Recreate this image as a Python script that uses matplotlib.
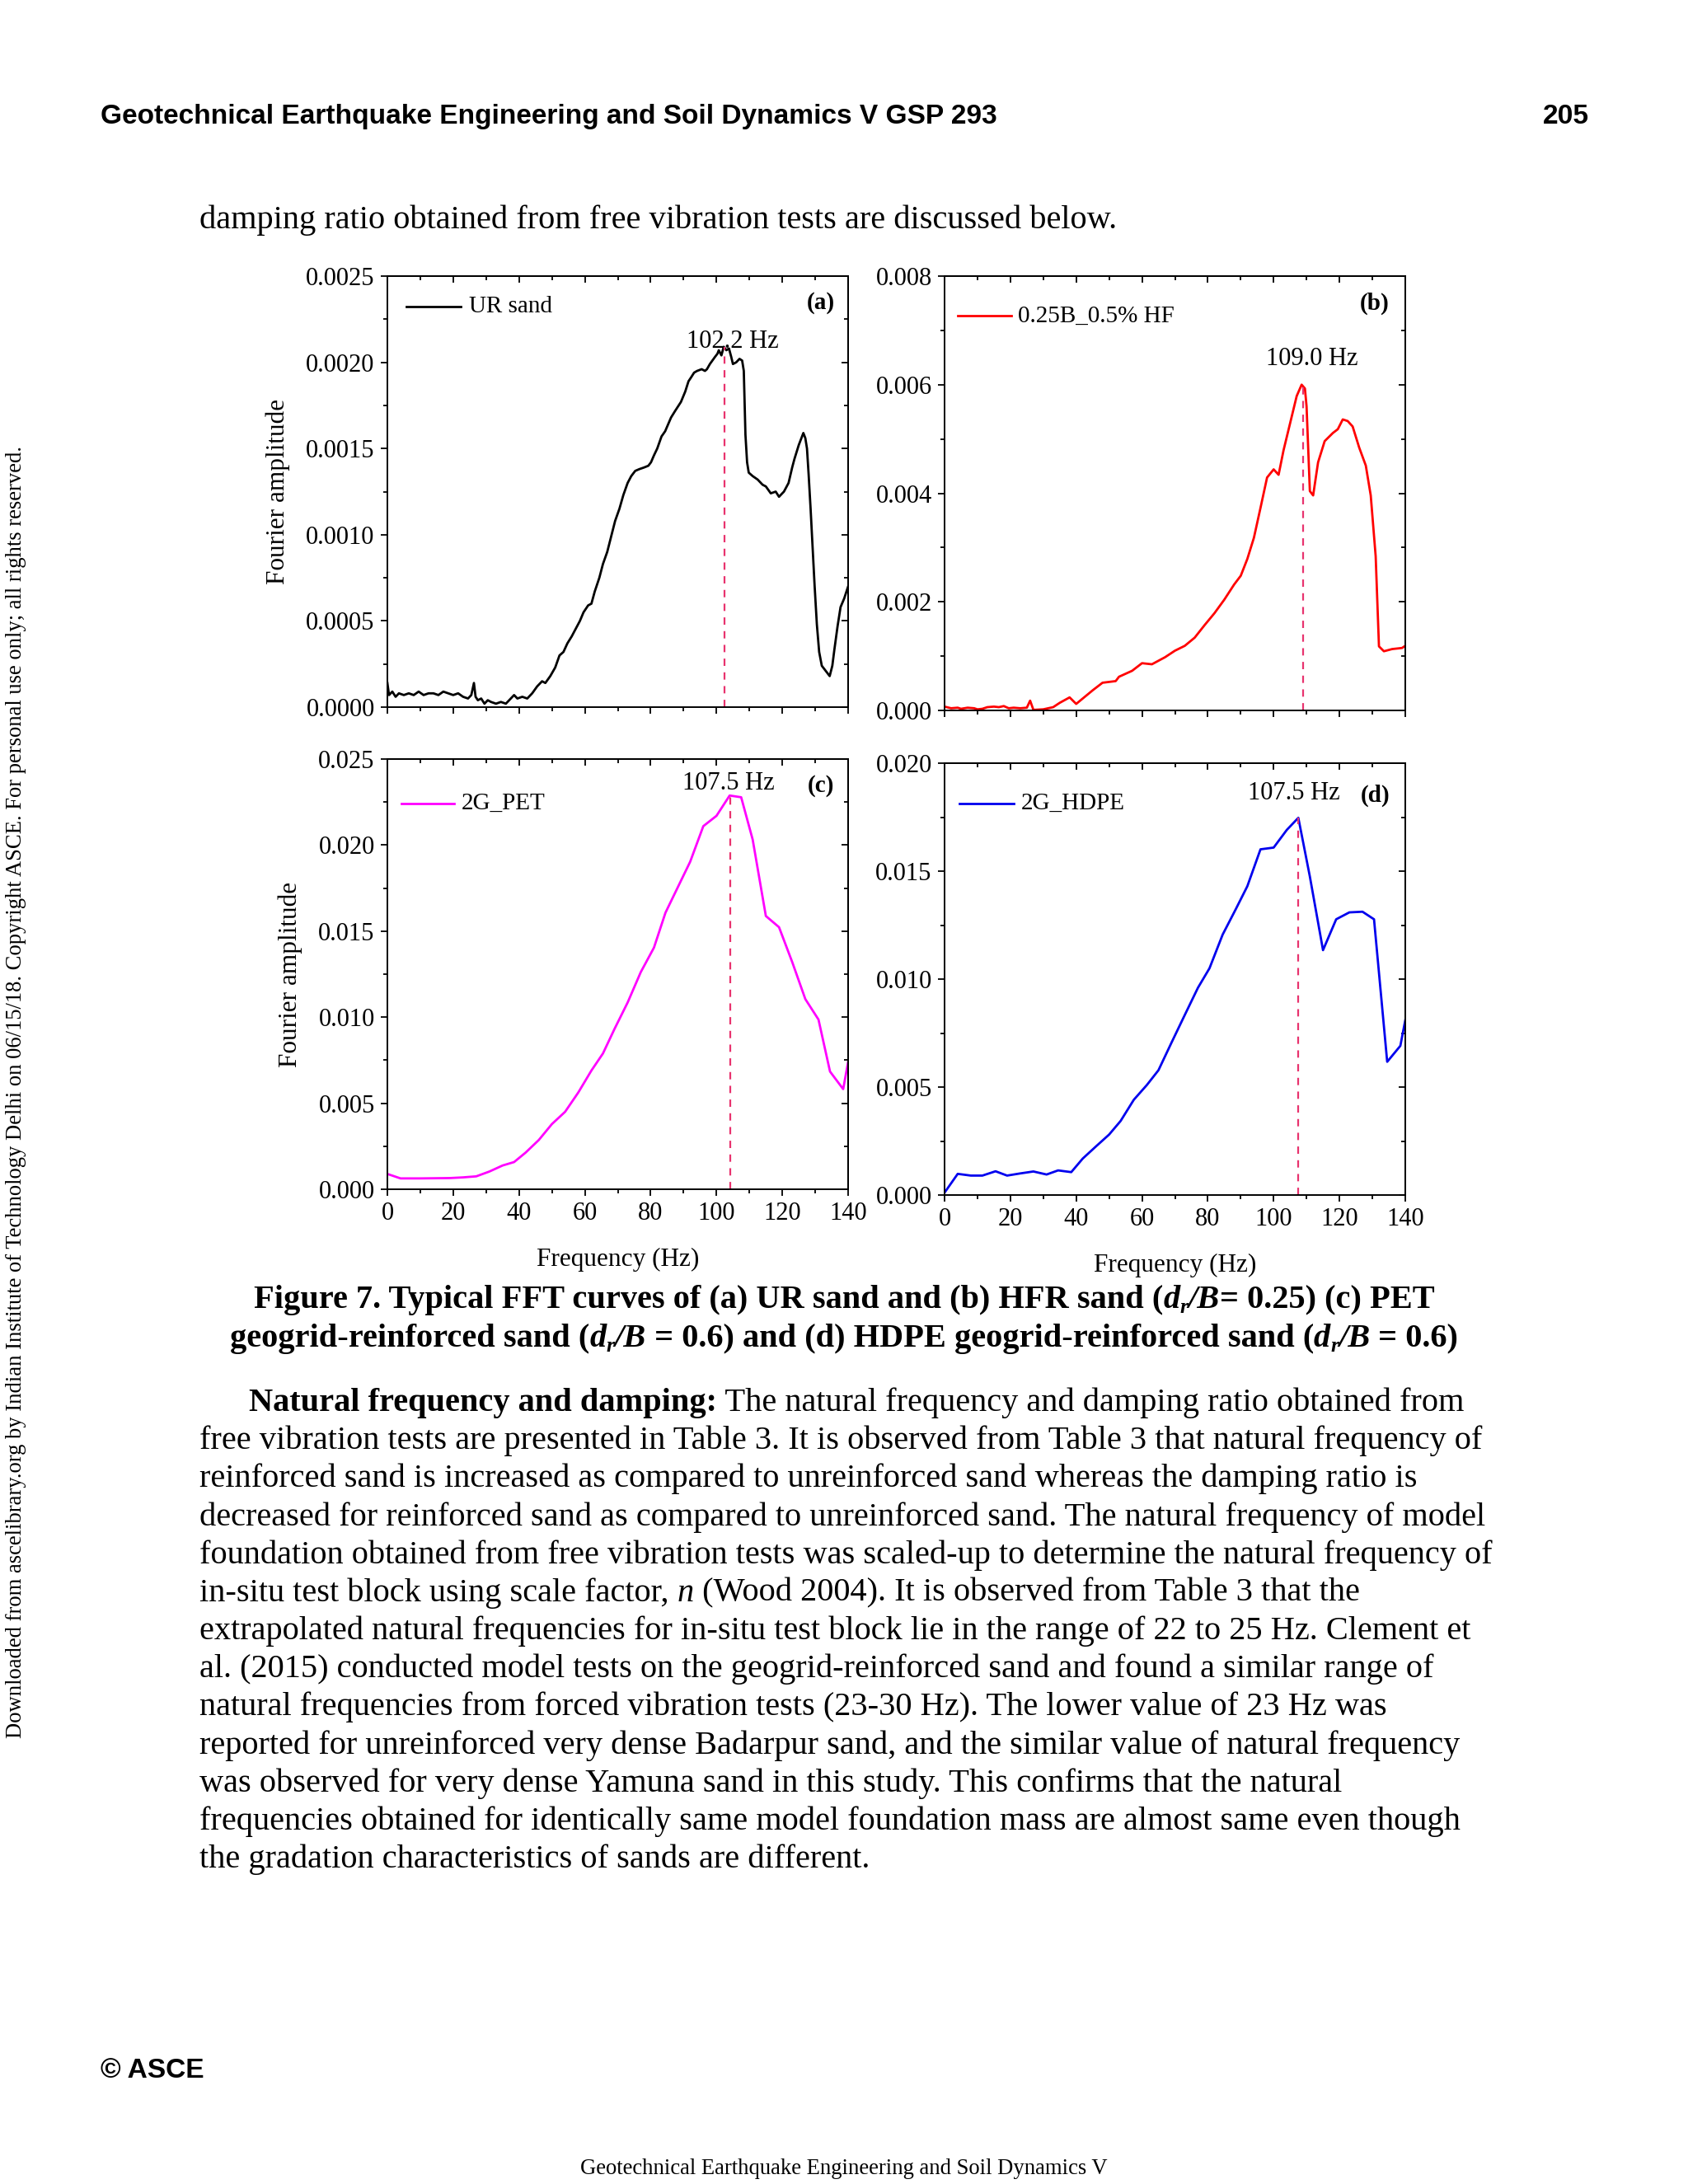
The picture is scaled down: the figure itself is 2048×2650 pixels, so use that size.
import matplotlib
matplotlib.use('Agg')
import matplotlib.pyplot as plt
from matplotlib.ticker import MultipleLocator, FormatStrFormatter

# ---------------- data ----------------
freq_a = [0, 0.5, 1.5, 2.5, 3.5, 5, 6.5, 8, 9.5, 11, 12.5, 14, 15.5, 17, 18.5, 20, 21.5, 23,
          24.5, 25.5, 26.3, 26.8, 27.5, 28.5, 29.5, 30.5, 31.5, 33, 34.5, 36, 37, 38.5, 39.5,
          41, 42.5, 44, 45.5, 47, 48, 49.5, 51, 52.3, 53.5, 54.7, 56, 57.1, 58.5, 59.6, 61, 62,
          63, 64.4, 65.5, 66.8, 68, 69.2, 70.5, 71.7, 73, 74.1, 75.3, 76.5, 78, 79.3, 80.1, 81,
          82, 83.3, 84.4, 85.3, 86.2, 87.5, 89.2, 90.5, 91.5, 92.2, 93.2, 94.1, 95.5, 96.5, 97.1,
          98, 99.5, 100.3, 100.7, 101.5, 102.2, 103, 103.8, 104.5, 105, 106, 107, 107.8, 108.3,
          108.8, 109.3, 109.8, 111, 112.5, 114, 115, 116.5, 118, 119, 119.5, 120.5, 121.9, 123,
          123.7, 125, 126.4, 127, 127.5, 128, 128.6, 129.2, 129.8, 130.5, 131.2, 132, 132.8,
          133.6, 134.4, 135.2, 135.8, 136.8, 137.7, 138.8, 140]
amp_a = [0.00014, 0.00007, 0.00009, 0.00006, 0.00008, 0.00007, 0.00008, 0.00007, 0.00009,
         0.00007, 0.00008, 0.00008, 0.00007, 0.00009, 0.00008, 0.00007, 0.00008, 0.00006,
         0.00005, 0.00007, 0.00014, 0.00006, 0.00004, 0.00005, 0.00002, 0.00004, 0.00003,
         0.00002, 0.00003, 0.00002, 0.00004, 0.00007, 0.00005, 0.00006, 0.00005, 0.00008,
         0.00012, 0.00015, 0.00014, 0.00018, 0.00023, 0.00030, 0.00032, 0.00037, 0.00041,
         0.00045, 0.00050, 0.00055, 0.00059, 0.00060, 0.00067, 0.00075, 0.00083, 0.00090,
         0.00099, 0.00108, 0.00115, 0.00123, 0.00130, 0.00134, 0.00137, 0.00138, 0.00139,
         0.00140, 0.00142, 0.00146, 0.00150, 0.00157, 0.00160, 0.00164, 0.00168, 0.00172,
         0.00177, 0.00183, 0.00189, 0.00191, 0.00194, 0.00195, 0.00196, 0.00195, 0.00196,
         0.00199, 0.00203, 0.00205, 0.00207, 0.00204, 0.00209, 0.00207, 0.00208, 0.00203,
         0.00199, 0.00200, 0.00202, 0.00201, 0.00195, 0.00158, 0.00142, 0.00136, 0.00134,
         0.00132, 0.00129, 0.00128, 0.00124, 0.00125, 0.00122, 0.00123, 0.00125, 0.00130,
         0.00139, 0.00144, 0.00152, 0.00159, 0.00156, 0.00150, 0.00135, 0.00115, 0.00093,
         0.00071, 0.00048, 0.00032, 0.00024, 0.00022, 0.00020, 0.00018, 0.00024, 0.00033,
         0.00047, 0.00058, 0.00063, 0.00070]

freq_b = [0, 2, 4, 5, 7, 9, 10, 11.5, 13, 15, 16.5, 18, 19.5, 21, 23, 25, 26, 27, 30, 33,
          35, 38, 40, 42, 45, 48, 52, 53, 57, 60, 63, 67, 70, 73, 76, 79, 82, 85, 88, 90, 92,
          94, 96, 98, 100, 101.5, 103, 105, 107, 108.5, 109.5, 110, 111, 112, 113.5, 115.5,
          118, 119.5, 121, 122.5, 124, 126, 128, 129.5, 131, 132, 133.5, 136, 139, 140]
amp_b = [0.00007, 0.00004, 0.00005, 0.00003, 0.00005, 0.00004, 0.00002, 0.00003, 0.00006,
         0.00007, 0.00006, 0.00008, 0.00004, 0.00005, 0.00004, 0.00005, 0.00018, 0.00001,
         0.00002, 0.00006, 0.00014, 0.00024, 0.00012, 0.00022, 0.00037, 0.00051, 0.00054,
         0.00062, 0.00073, 0.00087, 0.00085, 0.00098, 0.00110, 0.00119, 0.00134, 0.00157,
         0.00179, 0.00204, 0.00232, 0.00248, 0.00279, 0.00318, 0.00373, 0.00429, 0.00444,
         0.00434, 0.00479, 0.00529, 0.00579, 0.00600, 0.00593, 0.00560, 0.00404, 0.00396,
         0.00457, 0.00496, 0.00511, 0.00518, 0.00536, 0.00533, 0.00523, 0.00484, 0.00451,
         0.00396, 0.00284, 0.00118, 0.00109, 0.00113, 0.00115, 0.00119]

freq_c = [0, 4, 10, 19, 23, 27, 31, 35, 38.5, 42, 46, 50, 54, 58, 62, 65.5, 69, 73, 77, 81,
          84.5, 88.5, 92, 96, 100, 104, 107.5, 111, 115, 119, 123, 127, 131, 134.5, 138.5, 140]
amp_c = [0.00089, 0.00063, 0.00063, 0.00065, 0.00069, 0.00075, 0.00103, 0.00138, 0.00158,
         0.00213, 0.00286, 0.00379, 0.00450, 0.00562, 0.00690, 0.00789, 0.00931, 0.01085,
         0.01262, 0.01404, 0.01607, 0.01765, 0.01903, 0.02110, 0.02170, 0.02288, 0.02278,
         0.02032, 0.01588, 0.01523, 0.01321, 0.01105, 0.00986, 0.00684, 0.00582, 0.00740]

freq_d = [0, 4, 8, 11.5, 15.5, 19, 23, 27, 31, 34.5, 38.5, 42, 46, 50, 53.5, 57.5, 61.5, 65,
          69, 73, 77, 80.5, 84.5, 88.5, 92, 96, 100, 104, 107.5, 111, 115, 119, 123, 127,
          130.5, 134.5, 138.5, 140]
amp_d = [0.00011, 0.00098, 0.00090, 0.00090, 0.00110, 0.00090, 0.00100, 0.00109, 0.00095,
         0.00114, 0.00106, 0.00169, 0.00225, 0.00280, 0.00343, 0.00441, 0.00510, 0.00578,
         0.00707, 0.00834, 0.00960, 0.01050, 0.01206, 0.01324, 0.01430, 0.01601, 0.01609,
         0.01691, 0.01747, 0.01475, 0.01134, 0.01277, 0.01309, 0.01312, 0.01277, 0.00617,
         0.00691, 0.00810]

series_names = ["UR sand", "0.25B_0.5% HF", "2G_PET", "2G_HDPE"]
panel_tags = ["(a)", "(b)", "(c)", "(d)"]
peak_labels = ["102.2 Hz", "109.0 Hz", "107.5 Hz", "107.5 Hz"]
marker_freqs = [102.5, 109.0, 104.3, 107.5]
marker_tops = [0.00209, 0.00600, 0.02290, 0.01747]
y_max = [0.0025, 0.008, 0.025, 0.020]
y_major = [0.0005, 0.002, 0.005, 0.005]
y_fmt = ['%.4f', '%.3f', '%.3f', '%.3f']
x_ticks = [0, 20, 40, 60, 80, 100, 120, 140]

# ---------------- page ----------------
W, H = 2048, 2650
DPI = 100
fig = plt.figure(figsize=(W / DPI, H / DPI), dpi=DPI)
fig.patch.set_facecolor('white')
SERIF = 'Liberation Serif'
SANS = 'Liberation Sans'
plt.rcParams['font.family'] = SERIF

colors = ['black', '#ff0000', '#ff00ff', '#0000ee']
dash_color = '#e8336e'

# axes boxes in pixels: left, top, right, bottom
boxes = [(470, 335, 1029, 858), (1146, 335, 1705, 862),
         (470, 921, 1029, 1443), (1146, 926, 1705, 1450)]
# legend positions (axes fraction): line x0, x1, text x, y
leg_pos = [(0.041, 0.159, 0.177, 0.930), (0.028, 0.145, 0.160, 0.908),
           (0.031, 0.145, 0.160, 0.897), (0.032, 0.150, 0.166, 0.906)]
tag_pos = [(0.940, 0.937), (0.934, 0.937), (0.940, 0.937), (0.934, 0.924)]
label_pos = [(104.9, 0.00212), (111.7, 0.00647), (103.7, 0.0236), (106.2, 0.01859)]

datasets = [(freq_a, amp_a), (freq_b, amp_b), (freq_c, amp_c), (freq_d, amp_d)]

TICK_FS = 22
for i, (fx, fy) in enumerate(datasets):
    l, t, r, b = boxes[i]
    ax = fig.add_axes([l / W, 1 - b / H, (r - l) / W, (b - t) / H])
    ax.plot(fx, fy, color=colors[i], lw=2.0, solid_joinstyle='round')
    ax.plot([marker_freqs[i], marker_freqs[i]], [0, marker_tops[i]], color=dash_color,
            lw=1.6, dashes=(4, 3.5))
    ax.set_xlim(0, 140)
    ax.set_ylim(0, y_max[i])
    ax.set_xticks(x_ticks)
    ax.xaxis.set_minor_locator(MultipleLocator(10))
    ax.yaxis.set_major_locator(MultipleLocator(y_major[i]))
    ax.yaxis.set_minor_locator(MultipleLocator(y_major[i] / 2))
    ax.yaxis.set_major_formatter(FormatStrFormatter(y_fmt[i]))
    for sp in ax.spines.values():
        sp.set_linewidth(1.4)
    ax.tick_params(which='both', direction='out', width=1.3, labelsize=TICK_FS,
                   pad=5)
    ax.tick_params(which='major', length=6)
    ax.tick_params(which='minor', length=3.5)
    if i < 2:
        ax.tick_params(axis='x', labelbottom=False)
    else:
        ax.set_xlabel('Frequency (Hz)', fontsize=22.5, labelpad=19)
    if i in (0, 2):
        ax.set_ylabel('Fourier amplitude', fontsize=22.5, labelpad=14)
    # mirrored inward ticks on top / right
    sx = ax.secondary_xaxis('top')
    sx.set_xticks(x_ticks)
    sx.xaxis.set_minor_locator(MultipleLocator(10))
    sx.tick_params(which='both', direction='in', width=1.3, labeltop=False)
    sx.tick_params(which='major', length=6)
    sx.tick_params(which='minor', length=3.5)
    sx.spines['top'].set_linewidth(1.4)
    sy = ax.secondary_yaxis('right')
    sy.yaxis.set_major_locator(MultipleLocator(y_major[i]))
    sy.yaxis.set_minor_locator(MultipleLocator(y_major[i] / 2))
    sy.tick_params(which='both', direction='in', width=1.3, labelright=False)
    sy.tick_params(which='major', length=6)
    sy.tick_params(which='minor', length=3.5)
    sy.spines['right'].set_linewidth(1.4)

    lx0, lx1, tx, ly = leg_pos[i]
    ax.plot([lx0, lx1], [ly, ly], transform=ax.transAxes, color=colors[i], lw=2.0)
    ax.text(tx, ly, series_names[i], transform=ax.transAxes, fontsize=21,
            va='center', ha='left')
    ax.text(tag_pos[i][0], tag_pos[i][1], panel_tags[i], transform=ax.transAxes,
            fontsize=21, fontweight='bold', ha='center', va='center')
    ax.text(label_pos[i][0], label_pos[i][1], peak_labels[i], fontsize=22,
            ha='center', va='center')

# ---------------- page text ----------------
renderer = fig.canvas.get_renderer()


def runs_text(x, y, runs, ha='left'):
    """Draw consecutive text runs on one baseline (pixel coords)."""
    objs = []
    widths = []
    for s, kw in runs:
        kw = dict(kw)
        dy = kw.pop('dy', 0)
        t = fig.text(0, 0, s, va='baseline', ha='left', **kw)
        objs.append((t, dy))
        widths.append(t.get_window_extent(renderer).width)
    total = sum(widths)
    if ha == 'center':
        x0 = x - total / 2
    else:
        x0 = x
    cx = x0
    for (t, dy), w in zip(objs, widths):
        t.set_position((cx / W, 1 - (y + dy) / H))
        cx += w


HEAD_FS = 24.1
# header
fig.text(122 / W, 1 - 150 / H,
         'Geotechnical Earthquake Engineering and Soil Dynamics V GSP 293',
         family=SANS, fontweight='bold', fontsize=HEAD_FS, va='baseline', ha='left')
fig.text(1928 / W, 1 - 150 / H, '205', family=SANS, fontweight='bold', fontsize=HEAD_FS,
         va='baseline', ha='right')

BODY_FS = 29.1
fig.text(242 / W, 1 - 277 / H,
         'damping ratio obtained from free vibration tests are discussed below.',
         family=SERIF, fontsize=BODY_FS, va='baseline', ha='left')

# caption
CAP_FS = 29.1
CAP = dict(family=SERIF, fontweight='bold', fontsize=CAP_FS)
CAPI = dict(family=SERIF, fontweight='bold', style='italic', fontsize=CAP_FS)
CAPS = dict(family=SERIF, fontweight='bold', style='italic', fontsize=18.5, dy=6)
runs_text(1024, 1587, [
    ('Figure 7. Typical FFT curves of (a) UR sand and (b) HFR sand (', CAP),
    ('d', CAPI), ('r', CAPS), ('/B', CAPI), ('= 0.25) (c) PET', CAP)], ha='center')
runs_text(1024, 1634, [
    ('geogrid-reinforced sand (', CAP), ('d', CAPI), ('r', CAPS), ('/B', CAPI),
    (' = 0.6) and (d) HDPE geogrid-reinforced sand (', CAP), ('d', CAPI), ('r', CAPS),
    ('/B', CAPI), (' = 0.6)', CAP)], ha='center')

# body paragraph
body_lines = [
    None,
    'free vibration tests are presented in Table 3. It is observed from Table 3 that natural frequency of',
    'reinforced sand is increased as compared to unreinforced sand whereas the damping ratio is',
    'decreased for reinforced sand as compared to unreinforced sand. The natural frequency of model',
    'foundation obtained from free vibration tests was scaled-up to determine the natural frequency of',
    None,
    'extrapolated natural frequencies for in-situ test block lie in the range of 22 to 25 Hz. Clement et',
    'al. (2015) conducted model tests on the geogrid-reinforced sand and found a similar range of',
    'natural frequencies from forced vibration tests (23-30 Hz). The lower value of 23 Hz was',
    'reported for unreinforced very dense Badarpur sand, and the similar value of natural frequency',
    'was observed for very dense Yamuna sand in this study. This confirms that the natural',
    'frequencies obtained for identically same model foundation mass are almost same even though',
    'the gradation characteristics of sands are different.',
]
B = dict(family=SERIF, fontsize=BODY_FS)
BB = dict(family=SERIF, fontsize=BODY_FS, fontweight='bold')
BI = dict(family=SERIF, fontsize=BODY_FS, style='italic')
y0 = 1712
step = 46.18
for k, line in enumerate(body_lines):
    yy = y0 + k * step
    if k == 0:
        runs_text(302, yy, [('Natural frequency and damping:', BB),
                            (' The natural frequency and damping ratio obtained from', B)])
    elif k == 5:
        runs_text(242, yy, [('in-situ test block using scale factor, ', B), ('n', BI),
                            (' (Wood 2004). It is observed from Table 3 that the', B)])
    else:
        fig.text(242 / W, 1 - yy / H, line, va='baseline', ha='left', **B)

# footer
fig.text(122 / W, 1 - 2521 / H, '\u00a9 ASCE', family=SANS, fontweight='bold',
         fontsize=HEAD_FS, va='baseline', ha='left')
fig.text(1024 / W, 1 - 2638 / H,
         'Geotechnical Earthquake Engineering and Soil Dynamics V',
         family=SERIF, fontsize=19.2, va='baseline', ha='center')

# vertical margin note
fig.text(20 / W, 1 - 1325 / H,
         'Downloaded from ascelibrary.org by Indian Institute of Technology Delhi on 06/15/18. '
         'Copyright ASCE. For personal use only; all rights reserved.',
         family=SERIF, fontsize=19.2, rotation=90, va='center', ha='center')

fig.savefig('out.png', dpi=DPI, facecolor='white')
